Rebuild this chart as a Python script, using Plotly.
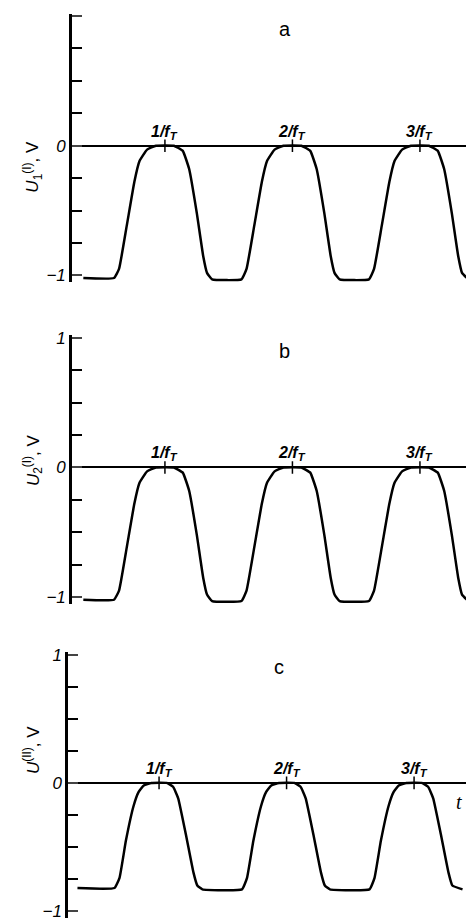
import plotly.graph_objects as go

# pulse traces, time in units of 1/f_T
t_ab = [0.36, 0.60, 0.64, 0.70, 0.76, 0.80, 0.86, 0.93, 1.07, 1.14, 1.19, 1.25, 1.30, 1.33, 1.37,
        1.60, 1.64, 1.70, 1.76, 1.80, 1.86, 1.93, 2.07, 2.14, 2.19, 2.25, 2.30, 2.33, 2.37,
        2.60, 2.64, 2.70, 2.76, 2.80, 2.86, 2.93, 3.07, 3.14, 3.19, 3.25, 3.30, 3.33, 3.38]
u1 = [-1.02, -1.02, -0.95, -0.62, -0.28, -0.12, -0.03, 0.0, 0.0, -0.04, -0.18, -0.52, -0.85, -0.98, -1.03,
      -1.03, -0.95, -0.62, -0.28, -0.12, -0.03, 0.0, 0.0, -0.04, -0.18, -0.52, -0.85, -0.98, -1.03,
      -1.03, -0.95, -0.62, -0.28, -0.12, -0.03, 0.0, 0.0, -0.04, -0.18, -0.52, -0.85, -0.98, -1.03]
u2 = [-1.02, -1.02, -0.95, -0.62, -0.28, -0.12, -0.03, 0.0, 0.0, -0.04, -0.18, -0.52, -0.85, -0.98, -1.03,
      -1.03, -0.95, -0.62, -0.28, -0.12, -0.03, 0.0, 0.0, -0.04, -0.18, -0.52, -0.85, -0.98, -1.03,
      -1.03, -0.95, -0.62, -0.28, -0.12, -0.03, 0.0, 0.0, -0.04, -0.18, -0.52, -0.85, -0.98, -1.03]
t_c = [0.36, 0.65, 0.69, 0.74, 0.80, 0.84, 0.88, 0.94, 1.06, 1.11, 1.15, 1.21, 1.27, 1.30, 1.34,
       1.65, 1.69, 1.74, 1.80, 1.84, 1.88, 1.94, 2.06, 2.11, 2.15, 2.21, 2.27, 2.30, 2.34,
       2.65, 2.69, 2.74, 2.80, 2.84, 2.88, 2.94, 3.06, 3.11, 3.15, 3.21, 3.27, 3.30, 3.38]
u3 = [-0.82, -0.82, -0.74, -0.45, -0.18, -0.07, -0.02, 0.0, 0.0, -0.03, -0.12, -0.40, -0.70, -0.80, -0.83,
      -0.83, -0.74, -0.45, -0.18, -0.07, -0.02, 0.0, 0.0, -0.03, -0.12, -0.40, -0.70, -0.80, -0.83,
      -0.83, -0.74, -0.45, -0.18, -0.07, -0.02, 0.0, 0.0, -0.03, -0.12, -0.40, -0.70, -0.80, -0.83]
peaks = [1, 2, 3]
peak_labels = ['1/<i>f</i><sub>T</sub>', '2/<i>f</i><sub>T</sub>', '3/<i>f</i><sub>T</sub>']
panel_letters = ['a', 'b', 'c']
y_titles = ['<i>U</i><sub>1</sub><sup>(I)</sup>, V', '<i>U</i><sub>2</sub><sup>(I)</sup>, V',
            '<i>U</i><sup>(II)</sup>, V']
ytick_vals = [-1, 0, 1]
ytick_text = ['<i>−1</i>', '<i>0</i>', '<i>1</i>']

# the page body has an 8px margin, so the figure is 8px smaller each way
panels = [
    (t_ab, u1, [0.7046, 1.0], [0.1373, 1], [0.271, 3.424], [-1.05, 1.015]),
    (t_ab, u2, [0.3499, 0.6459], [0.1373, 1], [0.271, 3.424], [-1.05, 1.02]),
    (t_c, u3, [0.0038, 0.2965], [0.1288, 1], [0.286, 3.47], [-1.05, 1.02]),
]

fig = go.Figure()
for i, (tt, uu, ydom, xdom, xr, yr) in enumerate(panels):
    n = '' if i == 0 else str(i + 1)
    xa, ya = 'x' + n, 'y' + n
    fig.add_trace(go.Scatter(x=tt, y=uu, mode='lines', line=dict(color='black', width=2.5, shape='spline', smoothing=0.35),
                             xaxis=xa, yaxis=ya, showlegend=False))
    # tick marks on zero line at peaks
    fig.add_trace(go.Scatter(x=peaks, y=[0] * 3, mode='markers',
                             marker=dict(symbol='line-ns', size=9, line=dict(color='black', width=1.5)),
                             xaxis=xa, yaxis=ya, showlegend=False))
    fig.layout['xaxis' + n] = dict(domain=xdom, range=xr, anchor=ya, visible=False)
    fig.layout['yaxis' + n] = dict(
        domain=ydom, range=yr, anchor=xa, showline=True, linecolor='black', linewidth=2.5,
        tickvals=ytick_vals, ticktext=ytick_text, ticks='inside', ticklen=10, tickwidth=1.5,
        tickfont=dict(size=17, color='black', family='Liberation Sans'),
        minor=dict(dtick=0.25, ticks='inside', ticklen=10, tickwidth=1.5, tickcolor='black'),
        showgrid=False, zeroline=True, zerolinecolor='black', zerolinewidth=2,
    )
    for p, lab in zip(peaks, peak_labels):
        fig.add_annotation(x=p, y=0, xref=xa, yref=ya, text='<b><i>' + lab + '</i></b>', showarrow=False,
                           yanchor='bottom', yshift=2, font=dict(size=16, color='black', family='Liberation Sans'))
    fig.add_annotation(x=1.94, y=0.9, xref=xa, yref=ya, text=panel_letters[i], showarrow=False,
                       font=dict(size=20, color='black', family='Liberation Sans'))
    fig.add_annotation(x=0.022, y=(ydom[0] + ydom[1]) / 2 + 0.01, xref='paper', yref='paper', text=y_titles[i],
                       textangle=-90, showarrow=False, font=dict(size=17, color='black', family='Liberation Sans'))

fig.add_annotation(x=3.35, y=-0.15, xref='x3', yref='y3', text='<i>t</i>', showarrow=False,
                   font=dict(size=20, color='black', family='Liberation Serif'))

fig.update_layout(width=466, height=916, margin=dict(l=0, r=0, t=0, b=0),
                  plot_bgcolor='white', paper_bgcolor='white')
fig.write_html("out.html")
